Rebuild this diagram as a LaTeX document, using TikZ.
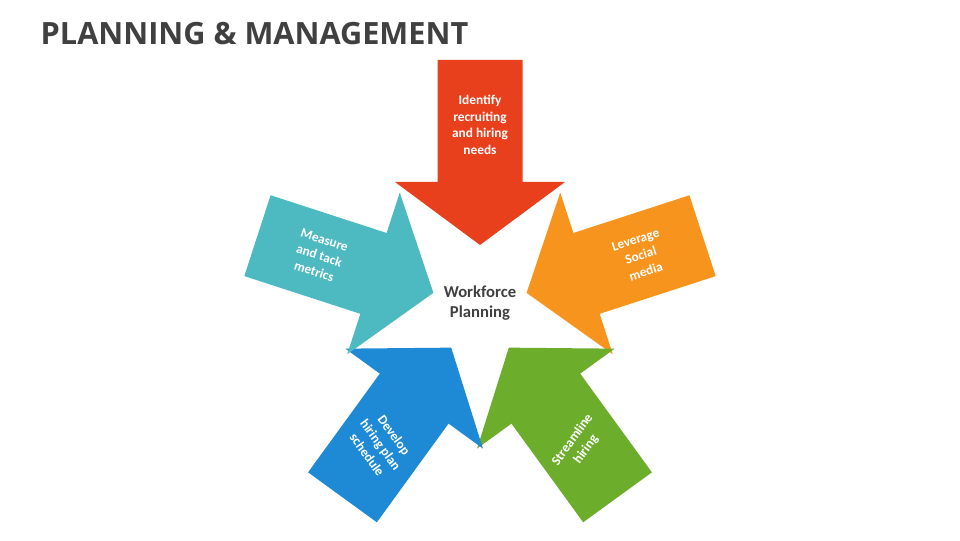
\documentclass[tikz,border=0pt]{standalone}
\usepackage{fontspec}
\setmainfont{Carlito}
\newfontfamily\titlefont{Open Sans}
\begin{document}
\begin{tikzpicture}[x=0.75pt,y=0.75pt]
\useasboundingbox (0,0) rectangle (960,540);
\definecolor{cred}{HTML}{E8401C}
\definecolor{corange}{HTML}{F7941D}
\definecolor{cgreen}{HTML}{6CAD2B}
\definecolor{cblue}{HTML}{1E8AD6}
\definecolor{cteal}{HTML}{4DB9C1}
\definecolor{ctitle}{HTML}{404040}
\tikzset{arrowtxt/.style={text=white,font=\bfseries\fontsize{10}{12.5}\selectfont,align=center}}
\node[anchor=west,font=\titlefont\bfseries\fontsize{23}{26}\selectfont,text=ctitle] (title) at (36,506) {PLANNING \& MANAGEMENT};
\coordinate (c) at (480,232);
\foreach \r/\col/\nm/\tr/\sh/\txt in {0/cred/a1/0/0/{Identify\\recruiting\\and hiring\\needs},
  -72/corange/a2/18/-14/{Leverage\\Social\\media},
  -144/cgreen/a3/54/-14/{Streamline\\hiring},
  144/cblue/a4/-54/-14/{Develop\\hiring plan\\schedule},
  72/cteal/a5/-18/-14/{Measure\\and tack\\metrics}}{
  \begin{scope}[shift={(c)},rotate=\r,yshift=\sh*0.75pt]
    \fill[\col] (0,63) -- (85,126) -- (42.5,126) -- (42.5,248) -- (-42.5,248) -- (-42.5,126) -- (-85,126) -- cycle;
    \node[arrowtxt,rotate=\tr] (\nm) at (0,183) {\txt};
  \end{scope}
}
\node[font=\bfseries\fontsize{12.5}{15.5}\selectfont,text=ctitle,align=center] (center) at (480,237) {Workforce\\Planning};
\end{tikzpicture}
\end{document}
